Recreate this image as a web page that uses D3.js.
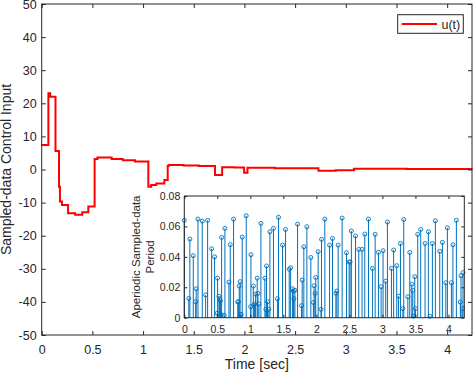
<!DOCTYPE html>
<html>
<head>
<meta charset="utf-8">
<script src="https://cdn.jsdelivr.net/npm/d3@7/dist/d3.min.js"></script>
<style>
body { margin: 0; background: #fff; }
text { font-family: "Liberation Sans", Arial, Helvetica, sans-serif; fill: #262626; }
</style>
</head>
<body>
<script>
// control input u(t), stairs: value holds from each time until the next
let uTime  = [0, 0.066, 0.084, 0.136, 0.171, 0.18, 0.2, 0.26, 0.33, 0.40, 0.46, 0.522, 0.55, 0.69, 0.8, 0.92,
              1.052, 1.08, 1.13, 1.21, 1.243, 1.256, 1.4, 1.55, 1.71, 1.78, 1.9, 1.997, 2.03, 2.3, 2.73, 2.9, 3.08, 3.6, 4.25];
let uValue = [7.4, 23.0, 22.0, 5.6, -5.2, -9.7, -10.7, -13.2, -13.7, -12.9, -11.2, 3.2, 3.6, 3.2, 2.8, 2.4,
              -5.2, -4.7, -4.2, -3.2, 1.15, 1.36, 1.2, 1.05, -1.66, 0.66, 0.6, -0.96, 0.56, 0.4, -0.35, -0.25, 0.2, 0.15, 0.15];

// aperiodic sampling periods (inset stems)
let sampleTime = [0, 0.068, 0.084, 0.136, 0.172, 0.18, 0.207, 0.272, 0.323, 0.353, 0.414, 0.459, 0.498, 0.504, 0.525,
  0.535, 0.548, 0.56, 0.565, 0.605, 0.615, 0.676, 0.696, 0.746, 0.81, 0.82, 0.832, 0.845, 0.852, 0.862, 0.877, 0.938,
  1.005, 1.009, 1.045, 1.055, 1.065, 1.08, 1.104, 1.115, 1.13, 1.16, 1.22, 1.235, 1.245, 1.26, 1.28, 1.296, 1.35, 1.41,
  1.427, 1.488, 1.533, 1.589, 1.61, 1.64, 1.65, 1.66, 1.675, 1.715, 1.775, 1.785, 1.81, 1.856, 1.916, 1.955, 1.965,
  1.98, 1.99, 2.027, 2.07, 2.078, 2.128, 2.2, 2.244, 2.295, 2.31, 2.33, 2.39, 2.456, 2.496, 2.51, 2.53, 2.592, 2.642,
  2.692, 2.733, 2.789, 2.849, 2.89, 2.94, 2.98, 3.01, 3.05, 3.076, 3.137, 3.17, 3.217, 3.243, 3.273, 3.31, 3.323,
  3.385, 3.414, 3.445, 3.46, 3.47, 3.49, 3.5, 3.535, 3.58, 3.646, 3.696, 3.72, 3.757, 3.802, 3.868, 3.908, 3.96,
  3.984, 4.045, 4.068, 4.12, 4.18, 4.19, 4.21, 4.22];
let samplePeriod = [0.064, 0.0127, 0.0517, 0.0408, 0.0105, 0.019, 0.0648, 0.0635, 0.015, 0.064, 0.0453, 0.040, 0.003,
  0.026, 0.014, 0.0125, 0.011, 0.002, 0.0528, 0.0015, 0.0587, 0.0234, 0.048, 0.0648, 0.0103, 0.0105, 0.0208, 0.0237,
  0.002, 0.002, 0.053, 0.067, 0.0072, 0.0414, 0.0208, 0.0083, 0.009, 0.0155, 0.026, 0.016, 0.009, 0.062, 0.026,
  0.0055, 0.034, 0.0105, 0.0055, 0.0565, 0.0587, 0.0125, 0.066, 0.0477, 0.058, 0.0318, 0.0328, 0.019, 0.0175,
  0.0125, 0.018, 0.0615, 0.0079, 0.0247, 0.0466, 0.0598, 0.0396, 0.01, 0.021, 0.016, 0.0265, 0.0434, 0.0055,
  0.0515, 0.0648, 0.0477, 0.0521, 0.016, 0.0175, 0.0477, 0.0655, 0.0427, 0.0366, 0.0366, 0.057, 0.0537, 0.0449,
  0.0449, 0.055, 0.0648, 0.0324, 0.0548, 0.043, 0.0204, 0.044, 0.024, 0.0629, 0.0324, 0.0445, 0.0342, 0.0142,
  0.0488, 0.006, 0.0646, 0.0138, 0.0429, 0.022, 0.018, 0.001, 0.027, 0.006, 0.0548, 0.058, 0.0488, 0.0565, 0.001,
  0.0488, 0.0637, 0.0436, 0.0495, 0.023, 0.0591, 0.023, 0.048, 0.064, 0.0103, 0.0276, 0.006, 0.0296];

let xTicks = [0, 0.5, 1, 1.5, 2, 2.5, 3, 3.5, 4];
let yTicks = [-50, -40, -30, -20, -10, 0, 10, 20, 30, 40, 50];
let insetYTicks = [0, 0.02, 0.04, 0.06, 0.08];

let width = 474, height = 375;
let axisColor = "#262626";

let main = {left: 41.7, right: 472, top: 4, bottom: 335};
let ins = {left: 184.3, right: 464.3, top: 196, bottom: 317.7};

let svg = d3.select("body")
    .append("svg")
    .attr("width", width)
    .attr("height", height);

let x = d3.scaleLinear().domain([0, 4.245]).range([main.left, main.right]);
let y = d3.scaleLinear().domain([-50, 50]).range([main.bottom, main.top]);

// red stairs line
let line = d3.line()
    .x(d => x(d[0]))
    .y(d => y(d[1]))
    .curve(d3.curveStepAfter);

svg.append("path")
    .datum(d3.zip(uTime, uValue))
    .attr("d", line)
    .attr("fill", "none")
    .attr("stroke", "#ff0000")
    .attr("stroke-width", 2);

// main axes (ticks inward, box around)
function styleAxis(g, size) {
  g.style("color", axisColor);
  g.select(".domain").remove();
  g.selectAll("text").style("font-size", size + "px");
}

svg.append("g")
    .attr("transform", "translate(0," + main.bottom + ")")
    .call(d3.axisBottom(x).tickValues(xTicks).tickSize(-4).tickPadding(10).tickFormat(d => String(d)))
    .call(g => styleAxis(g, 12.5));
svg.append("g")
    .attr("transform", "translate(0," + main.top + ")")
    .call(d3.axisTop(x).tickValues(xTicks).tickSize(-4).tickFormat(""))
    .call(g => styleAxis(g, 12));
svg.append("g")
    .attr("transform", "translate(" + main.left + ",0)")
    .call(d3.axisLeft(y).tickValues(yTicks).tickSize(-4).tickPadding(5).tickFormat(d => String(d)))
    .call(g => styleAxis(g, 12.5));
svg.append("g")
    .attr("transform", "translate(" + main.right + ",0)")
    .call(d3.axisRight(y).tickValues(yTicks).tickSize(-4).tickFormat(""))
    .call(g => styleAxis(g, 12));

svg.append("rect")
    .attr("x", main.left)
    .attr("y", main.top)
    .attr("width", main.right - main.left)
    .attr("height", main.bottom - main.top)
    .attr("fill", "none")
    .attr("stroke", axisColor)
    .attr("stroke-width", 1);

svg.append("text")
    .attr("x", (main.left + main.right) / 2)
    .attr("y", 369)
    .style("text-anchor", "middle")
    .style("font-size", "14px")
    .text("Time [sec]");

svg.append("text")
    .attr("transform", "translate(11," + (main.top + main.bottom) / 2 + ") rotate(-90)")
    .style("text-anchor", "middle")
    .style("font-size", "14px")
    .text("Sampled-data Control Input");

// legend
let legend = svg.append("g");
legend.append("rect")
    .attr("x", 397.7).attr("y", 14.7)
    .attr("width", 65.6).attr("height", 18.6)
    .attr("fill", "#fff")
    .attr("stroke", axisColor)
    .attr("stroke-width", 1);
legend.append("line")
    .attr("x1", 401.7).attr("x2", 437)
    .attr("y1", 24).attr("y2", 24)
    .attr("stroke", "#ff0000")
    .attr("stroke-width", 2);
legend.append("text")
    .attr("x", 441.5).attr("y", 28.5)
    .style("font-size", "12.5px")
    .text("u(t)");

// inset stem plot
let xi = d3.scaleLinear().domain([0, 4.24]).range([ins.left, ins.right]);
let yi = d3.scaleLinear().domain([0, 0.08]).range([ins.bottom, ins.top]);

svg.append("rect")
    .attr("x", ins.left)
    .attr("y", ins.top)
    .attr("width", ins.right - ins.left)
    .attr("height", ins.bottom - ins.top)
    .attr("fill", "#fff");

let stems = d3.zip(sampleTime, samplePeriod);

svg.append("g")
    .selectAll("line")
    .data(stems)
    .enter()
    .append("line")
    .attr("x1", d => xi(d[0]))
    .attr("x2", d => xi(d[0]))
    .attr("y1", yi(0))
    .attr("y2", d => yi(d[1]))
    .attr("stroke", "#0072BD")
    .attr("stroke-width", 1);

svg.append("g")
    .selectAll("circle")
    .data(stems)
    .enter()
    .append("circle")
    .attr("cx", d => xi(d[0]))
    .attr("cy", d => yi(d[1]))
    .attr("r", 2)
    .attr("fill", "none")
    .attr("stroke", "#0072BD")
    .attr("stroke-width", 0.9);

svg.append("g")
    .attr("transform", "translate(0," + ins.bottom + ")")
    .call(d3.axisBottom(xi).tickValues(xTicks).tickSize(-3).tickPadding(8).tickFormat(d => String(d)))
    .call(g => styleAxis(g, 10.5));
svg.append("g")
    .attr("transform", "translate(0," + ins.top + ")")
    .call(d3.axisTop(xi).tickValues(xTicks).tickSize(-3).tickFormat(""))
    .call(g => styleAxis(g, 10));
svg.append("g")
    .attr("transform", "translate(" + ins.left + ",0)")
    .call(d3.axisLeft(yi).tickValues(insetYTicks).tickSize(-3).tickPadding(4)
      .tickFormat(d => d === 0 ? "0" : d.toFixed(2)))
    .call(g => styleAxis(g, 10.5));
svg.append("g")
    .attr("transform", "translate(" + ins.right + ",0)")
    .call(d3.axisRight(yi).tickValues(insetYTicks).tickSize(-3).tickFormat(""))
    .call(g => styleAxis(g, 10));

svg.append("rect")
    .attr("x", ins.left)
    .attr("y", ins.top)
    .attr("width", ins.right - ins.left)
    .attr("height", ins.bottom - ins.top)
    .attr("fill", "none")
    .attr("stroke", axisColor)
    .attr("stroke-width", 1);

let insetLabel = svg.append("text")
    .attr("transform", "translate(140," + (ins.top + ins.bottom) / 2 + ") rotate(-90)")
    .style("text-anchor", "middle")
    .style("font-size", "11.5px");
insetLabel.append("tspan").attr("x", 0).attr("y", 0).text("Aperiodic Sampled-data");
insetLabel.append("tspan").attr("x", 0).attr("y", 14).text("Period");
</script>
</body>
</html>
